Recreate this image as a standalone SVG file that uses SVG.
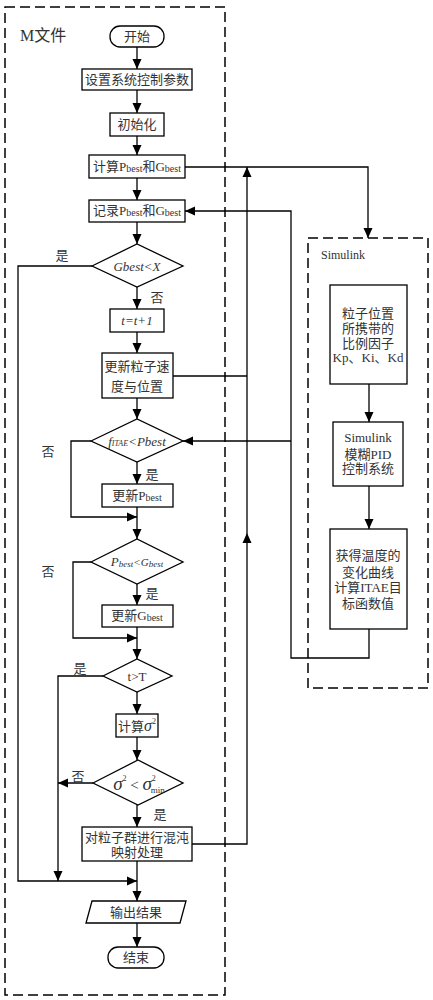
<svg xmlns="http://www.w3.org/2000/svg" width="433" height="1000" viewBox="0 0 433 1000">
<defs>
<marker id="ah" markerUnits="userSpaceOnUse" markerWidth="10" markerHeight="10" viewBox="0 0 10 10" refX="10" refY="5" orient="auto">
<path d="M0,0.5 L10,5 L0,9.5 z" fill="#000"/>
</marker>
<style>
.box{fill:#fff;stroke:#000;stroke-width:1.3}
.dash{fill:none;stroke:#000;stroke-width:1.5;stroke-dasharray:10 5}
.ln{fill:none;stroke:#000;stroke-width:1.3}
.ar{fill:none;stroke:#000;stroke-width:1.3;marker-end:url(#ah)}
text{font-family:"Liberation Serif","Noto Sans CJK SC",serif;font-size:13px;fill:#333;text-anchor:middle}
.it{font-style:italic}
.lb{text-anchor:start}
</style>
</defs>
<rect width="433" height="1000" fill="#fff"/>
<g id="mfile">
<rect class="dash" x="5" y="7" width="220" height="988"/>
<text class="lb" x="20" y="41" style="font-size:16px">M文件</text>
</g>
<g id="simulink">
<rect class="dash" x="308" y="238" width="120" height="450"/>
<text class="lb" x="321" y="259" style="font-size:12px">Simulink</text>
</g>
<g id="connectors">
<path class="ar" d="M137,47 V69"/>
<path class="ar" d="M137,90 V113"/>
<path class="ar" d="M137,136 V155"/>
<path class="ar" d="M137,178 V200"/>
<path class="ar" d="M137,222 V244"/>
<path class="ar" d="M137,287 V309"/>
<path class="ar" d="M137,332 V353"/>
<path class="ar" d="M137,398 V419"/>
<path class="ar" d="M137,462 V484"/>
<path class="ar" d="M137,507 V539"/>
<path class="ar" d="M137,584 V605"/>
<path class="ar" d="M137,627 V659"/>
<path class="ar" d="M137,692 V714"/>
<path class="ar" d="M137,737 V760"/>
<path class="ar" d="M137,805 V827"/>
<path class="ar" d="M137,861 V901"/>
<path class="ar" d="M137,923 V947"/>
<path class="ar" d="M92,266 H18 V881 H137"/>
<path class="ar" d="M91,441 H71 V517 H137"/>
<path class="ar" d="M91,562 H73 V638 H137"/>
<path class="ar" d="M103,676 H58 V881"/>
<path class="ar" d="M93,783 H58"/>
<path class="ar" d="M185,167 H368 V238"/>
<path class="ar" d="M192,844 H247 V533"/>
<path class="ar" d="M247,533 V167"/>
<path class="ln" d="M173,376 H247"/>
<path class="ar" d="M369,629 V658 H291 V211 H185"/>
<path class="ar" d="M291,441 H183"/>
<path class="ar" d="M369,384 V422"/>
<path class="ar" d="M369,486 V529"/>
<text x="62" y="260">是</text>
<text x="157" y="302">否</text>
<text x="48" y="456">否</text>
<text x="152" y="479">是</text>
<text x="48" y="576">否</text>
<text x="152" y="598">是</text>
<text x="80" y="673">是</text>
<text x="78" y="781">否</text>
<text x="160" y="819">是</text>
</g>
<g id="start">
<rect class="box" x="110" y="26" width="54" height="21" rx="10"/>
<text x="137" y="41">开始</text>
</g>
<g id="setparam">
<rect class="box" x="82" y="69" width="110" height="21"/>
<text x="137" y="84">设置系统控制参数</text>
</g>
<g id="init">
<rect class="box" x="110" y="113" width="54" height="23"/>
<text x="137" y="129">初始化</text>
</g>
<g id="calc">
<rect class="box" x="89" y="155" width="96" height="23"/>
<text x="137" y="171">计算P<tspan style="font-size:10px" dy="1">best</tspan><tspan dy="-1">和G</tspan><tspan style="font-size:10px" dy="1">best</tspan></text>
</g>
<g id="record">
<rect class="box" x="89" y="200" width="96" height="22"/>
<text x="137" y="215">记录P<tspan style="font-size:10px" dy="1">best</tspan><tspan dy="-1">和G</tspan><tspan style="font-size:10px" dy="1">best</tspan></text>
</g>
<g id="d1">
<polygon class="box" points="92,266 137,244 183,266 137,287"/>
<text class="it" x="137" y="271">Gbest&lt;X</text>
</g>
<g id="tinc">
<rect class="box" x="110" y="309" width="54" height="23"/>
<text class="it" x="137" y="325">t=t+1</text>
</g>
<g id="updvel">
<rect class="box" x="102" y="353" width="71" height="45"/>
<text x="137" y="371">更新粒子速</text>
<text x="137" y="391">度与位置</text>
</g>
<g id="d2">
<polygon class="box" points="91,441 137,419 183,441 137,462"/>
<text class="it" x="137" y="446">f<tspan style="font-size:8px">ITAE</tspan>&lt;Pbest</text>
</g>
<g id="updp">
<rect class="box" x="102" y="484" width="71" height="23"/>
<text x="137" y="500">更新P<tspan style="font-size:10px" dy="1">best</tspan></text>
</g>
<g id="d3">
<polygon class="box" points="91,562 137,539 183,562 137,584"/>
<text class="it" x="137" y="566">P<tspan style="font-size:9px" dy="1">best</tspan><tspan dy="-1" style="font-size:11px">&lt;G</tspan><tspan style="font-size:9px" dy="1">best</tspan></text>
</g>
<g id="updg">
<rect class="box" x="102" y="605" width="71" height="22"/>
<text x="137" y="620">更新G<tspan style="font-size:10px" dy="1">best</tspan></text>
</g>
<g id="d4">
<polygon class="box" points="103,676 137,659 172,676 137,692"/>
<text x="137" y="681">t&gt;T</text>
</g>
<g id="calcsig">
<rect class="box" x="116" y="714" width="42" height="23"/>
<text x="137" y="731">计算<tspan class="it" style="font-size:16px">σ</tspan><tspan style="font-size:8px" dy="-7">2</tspan></text>
</g>
<g id="d5">
<polygon class="box" points="93,783 138,760 183,783 138,805"/>
<text x="139" y="790"><tspan class="it" style="font-size:19px">σ</tspan><tspan style="font-size:8px" dy="-9">2</tspan><tspan dy="9" style="font-size:15px"> &lt; </tspan><tspan class="it" style="font-size:19px">σ</tspan><tspan style="font-size:8px" dy="-9">2</tspan><tspan style="font-size:9px" dx="-5" dy="12">min</tspan></text>
</g>
<g id="chaos">
<rect class="box" x="82" y="827" width="110" height="34"/>
<text x="137" y="842">对粒子群进行混沌</text>
<text x="137" y="857">映射处理</text>
</g>
<g id="output">
<polygon class="box" points="92,901 186,901 180,923 86,923"/>
<text x="136" y="917">输出结果</text>
</g>
<g id="end">
<rect class="box" x="108" y="947" width="56" height="21" rx="10"/>
<text x="136" y="962">结束</text>
</g>
<g id="particle">
<rect class="box" x="330" y="285" width="77" height="99"/>
<text x="368" y="318">粒子位置</text>
<text x="368" y="333">所携带的</text>
<text x="368" y="348">比例因子</text>
<text x="368" y="362">Kp、Ki、Kd</text>
</g>
<g id="fuzzypid">
<rect class="box" x="333" y="422" width="70" height="64"/>
<text x="368" y="442">Simulink</text>
<text x="368" y="459">模糊PID</text>
<text x="368" y="473">控制系统</text>
</g>
<g id="itae">
<rect class="box" x="330" y="529" width="77" height="100"/>
<text x="368" y="560">获得温度的</text>
<text x="368" y="577">变化曲线</text>
<text x="368" y="592">计算ITAE目</text>
<text x="368" y="608">标函数值</text>
</g>
</svg>
